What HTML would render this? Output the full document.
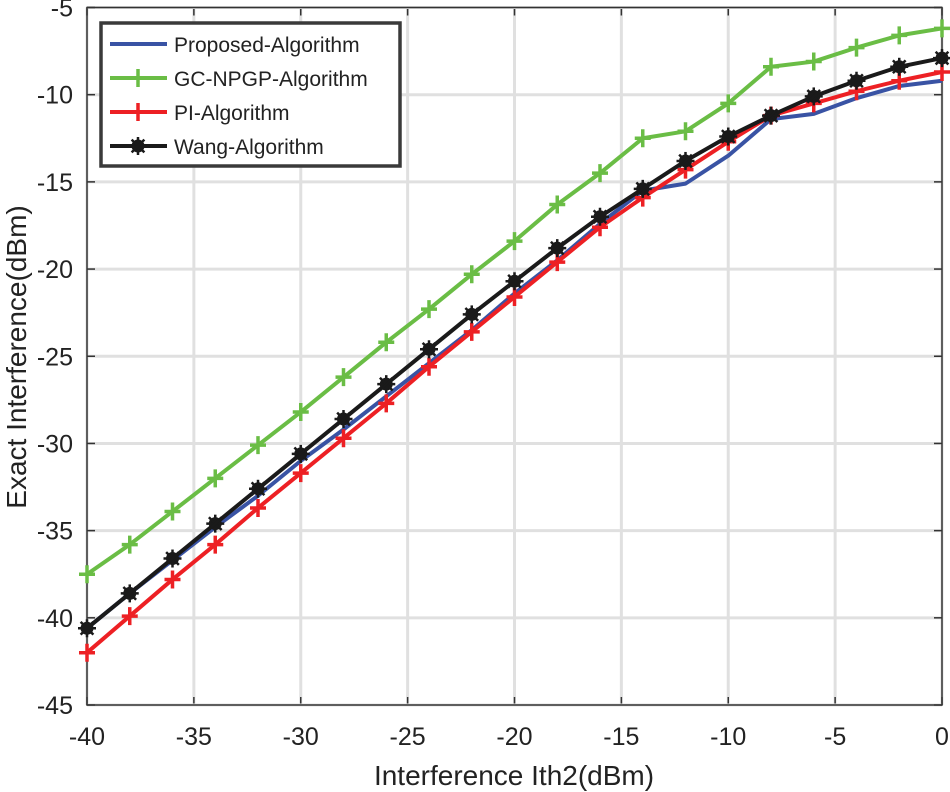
<!DOCTYPE html>
<html><head><meta charset="utf-8"><style>
body{margin:0;background:#fff}
svg{display:block;font-family:"Liberation Sans",sans-serif}
</style></head><body>
<svg id="chart" width="950" height="792"></svg>
<script>
const xValues=[-40,-38,-36,-34,-32,-30,-28,-26,-24,-22,-20,-18,-16,-14,-12,-10,-8,-6,-4,-2,0];
const proposed=[-40.6,-38.6,-36.7,-34.8,-33,-31,-29.2,-27.3,-25.4,-23.5,-21.4,-19.5,-17.4,-15.5,-15.1,-13.5,-11.4,-11.1,-10.2,-9.5,-9.2];
const gcnpgp=[-37.5,-35.8,-33.9,-32,-30.1,-28.2,-26.2,-24.2,-22.3,-20.3,-18.4,-16.3,-14.5,-12.5,-12.1,-10.5,-8.4,-8.1,-7.3,-6.6,-6.2];
const pi=[-42,-39.9,-37.8,-35.8,-33.7,-31.7,-29.7,-27.7,-25.6,-23.6,-21.6,-19.6,-17.6,-15.9,-14.3,-12.7,-11.2,-10.5,-9.8,-9.2,-8.7];
const wang=[-40.6,-38.6,-36.6,-34.6,-32.6,-30.6,-28.6,-26.6,-24.6,-22.6,-20.7,-18.8,-17,-15.4,-13.8,-12.4,-11.2,-10.1,-9.2,-8.4,-7.9];
const xTicks=[-40,-35,-30,-25,-20,-15,-10,-5,0];
const yTicks=[-5,-10,-15,-20,-25,-30,-35,-40,-45];
const L=87,R=942,T=7.5,B=705;
const xs=v=>L+(v+40)/40*(R-L);
const ys=v=>T+(-5-v)/40*(B-T);
const svg=document.getElementById('chart');
const NS='http://www.w3.org/2000/svg';
function mk(tag,attrs,parent){const e=document.createElementNS(NS,tag);for(const k in attrs)e.setAttribute(k,attrs[k]);(parent||svg).appendChild(e);return e;}
const grid=mk('g',{});


xTicks.forEach(t=>{mk('line',{x1:xs(t),x2:xs(t),y1:T,y2:B,stroke:'#e0e0e0','stroke-width':3},grid);
 mk('line',{x1:xs(t),x2:xs(t),y1:B,y2:B-8,stroke:'#333','stroke-width':1.5},grid);
 mk('line',{x1:xs(t),x2:xs(t),y1:T,y2:T+8,stroke:'#333','stroke-width':1.5},grid);
 const tx=mk('text',{x:xs(t),y:745,'text-anchor':'middle','font-size':25,fill:'#222'});tx.textContent=t;
 
 });
yTicks.forEach(t=>{mk('line',{x1:L,x2:R,y1:ys(t),y2:ys(t),stroke:'#e0e0e0','stroke-width':3},grid);
 mk('line',{x1:L,x2:L+8,y1:ys(t),y2:ys(t),stroke:'#333','stroke-width':1.5},grid);
 mk('line',{x1:R,x2:R-8,y1:ys(t),y2:ys(t),stroke:'#333','stroke-width':1.5},grid);
 const tx=mk('text',{x:73,y:ys(t)+9,'text-anchor':'end','font-size':25,fill:'#222'});tx.textContent=t;
 
 });
const frame=mk('rect',{x:L,y:T,width:R-L,height:B-T,fill:'none',stroke:'#333','stroke-width':1.5});


function plus(g,x,y,c){mk('path',{d:`M${x-8} ${y}H${x+8}M${x} ${y-9}V${y+9}`,stroke:c,'stroke-width':3.5,fill:'none'},g);}
function star(g,x,y){mk('circle',{cx:x,cy:y,r:6.5,fill:'#1a1a1a'},g);
 for(let a=0;a<4;a++){const an=a*Math.PI/4;mk('line',{x1:x-9*Math.cos(an),y1:y-9*Math.sin(an),x2:x+9*Math.cos(an),y2:y+9*Math.sin(an),stroke:'#1a1a1a','stroke-width':2.5},g);}}
function series(name,data,color,marker){
 const g=mk('g',{});
 
 
 mk('polyline',{points:data.map((v,i)=>xs(xValues[i])+','+ys(v)).join(' '),fill:'none',stroke:color,'stroke-width':4,'stroke-linejoin':'round'},g);
 data.forEach((v,i)=>{if(marker==='plus')plus(g,xs(xValues[i]),ys(v),color);else if(marker==='star')star(g,xs(xValues[i]),ys(v));});
}
series('series-proposed',proposed,'#3953a4','none');
series('series-gc-npgp',gcnpgp,'#6abd45','plus');
series('series-pi',pi,'#ed2024','plus');
series('series-wang',wang,'#1a1a1a','star');
const lg=mk('g',{});


mk('rect',{x:101,y:23,width:299,height:143,fill:'#fff',stroke:'#3a3a3a','stroke-width':3.5},lg);
const items=[['Proposed-Algorithm','#3953a4','none'],['GC-NPGP-Algorithm','#6abd45','plus'],['PI-Algorithm','#ed2024','plus'],['Wang-Algorithm','#1a1a1a','star']];
items.forEach((it,i)=>{const y=44+i*34;
 mk('line',{x1:110,x2:167,y1:y,y2:y,stroke:it[1],'stroke-width':4},lg);
 if(it[2]==='plus')plus(lg,138,y,it[1]);if(it[2]==='star')star(lg,138,y);
 const tx=mk('text',{x:174,y:y+8,'font-size':21,fill:'#222'},lg);tx.textContent=it[0];
 
 });
const xt=mk('text',{x:514,y:785,'text-anchor':'middle','font-size':28,fill:'#222'});xt.textContent='Interference Ith2(dBm)';


const yt=mk('text',{x:0,y:0,'text-anchor':'middle','font-size':28,fill:'#222',transform:'translate(26,357) rotate(-90)'});yt.textContent='Exact Interference(dBm)';


</script>
</body></html>
